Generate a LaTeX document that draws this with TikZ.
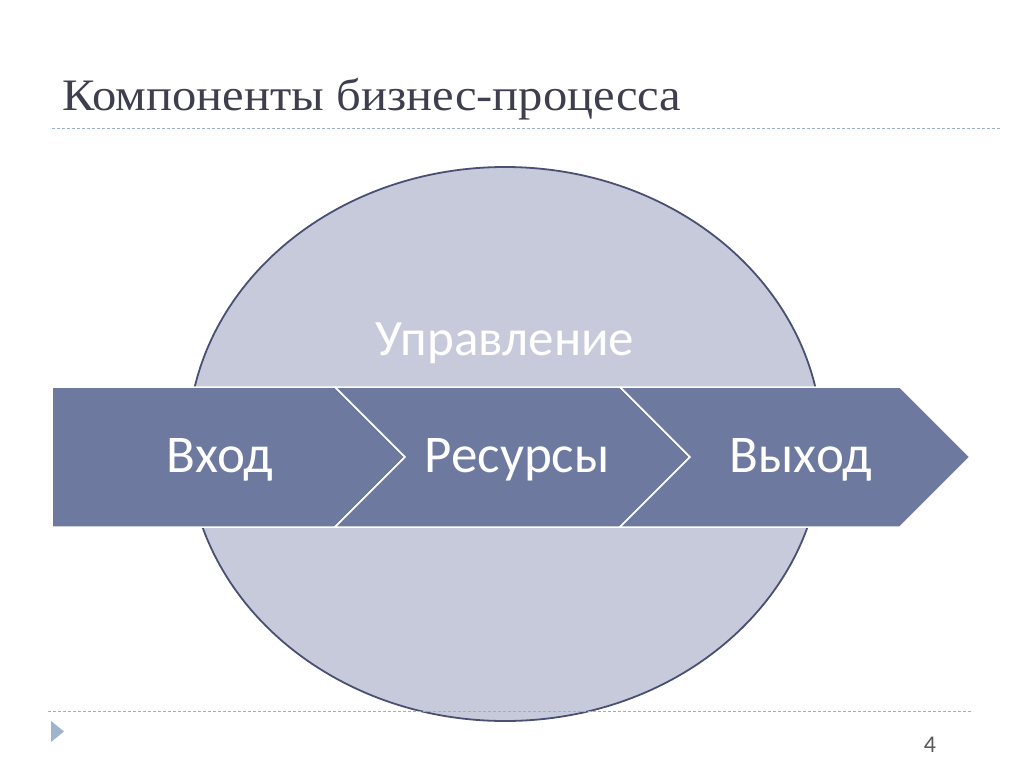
\documentclass[tikz,border=0pt]{standalone}
\usepackage{fontspec}
\usetikzlibrary{shapes.geometric}
\setmainfont{Liberation Serif}
\newfontfamily\bodyfont{Carlito}
\definecolor{titlecol}{HTML}{3E3E4E}
\definecolor{ellfill}{HTML}{C7CADB}
\definecolor{elldraw}{HTML}{4A5073}
\definecolor{chevfill}{HTML}{6E79A0}
\definecolor{rulecol}{HTML}{9AAFC8}
\definecolor{markcol}{HTML}{9DB4CF}
\definecolor{numcol}{HTML}{595959}
\tikzset{
  chev/.style={fill=chevfill, draw=white, line width=1.5pt, line join=miter},
  chevtext/.style={text=white, font=\bodyfont\fontsize{53}{60}\selectfont, inner sep=0pt, anchor=base},
  rulers/.style={draw=rulecol, line width=1pt, dash pattern=on 3pt off 2pt},
}
\begin{document}
\begin{tikzpicture}[x=1pt,y=-1pt]
\useasboundingbox (0,0) rectangle (1024,768);
\fill[white] (0,0) rectangle (1024,768);
% title
\node[anchor=base west, inner sep=0pt, text=titlecol, font=\fontsize{45}{50}\selectfont, xscale=1.08] (title) at (62,110) {Компоненты бизнес-процесса};
\coordinate (tl) at (52,128);
\coordinate (tr) at (1000,128);
\draw[rulers] (tl) -- (tr);
% ellipse
\node[ellipse, minimum width=634pt, minimum height=554pt, fill=ellfill, draw=elldraw, line width=1.8pt, inner sep=0pt] (ctrl) at (505,444) {};
\node[text=white, font=\bodyfont\fontsize{51}{56}\selectfont, inner sep=0pt, anchor=base] (ctrltext) at (505,355) {Управление};
% chevrons
\path[chev] (52,387) -- (335,387) -- (405,457) -- (335,527) -- (52,527) -- cycle;
\path[chev] (335,387) -- (620,387) -- (690,457) -- (620,527) -- (335,527) -- (405,457) -- cycle;
\path[chev] (620,387) -- (900,387) -- (970,457) -- (900,527) -- (620,527) -- (690,457) -- cycle;
\node[chevtext] (in) at (220,472) {Вход};
\node[chevtext] (res) at (517,472) {Ресурсы};
\node[chevtext] (out) at (801,472) {Выход};
% footer
\coordinate (bl) at (48,711);
\coordinate (br) at (973,711);
\draw[rulers] (bl) -- (br);
\fill[markcol] (51,721) -- (64,731.5) -- (51,742) -- cycle;
\node[anchor=base, inner sep=0pt, text=numcol, font=\bodyfont\fontsize{24}{28}\selectfont] (pnum) at (930,752) {4};
\end{tikzpicture}
\end{document}
